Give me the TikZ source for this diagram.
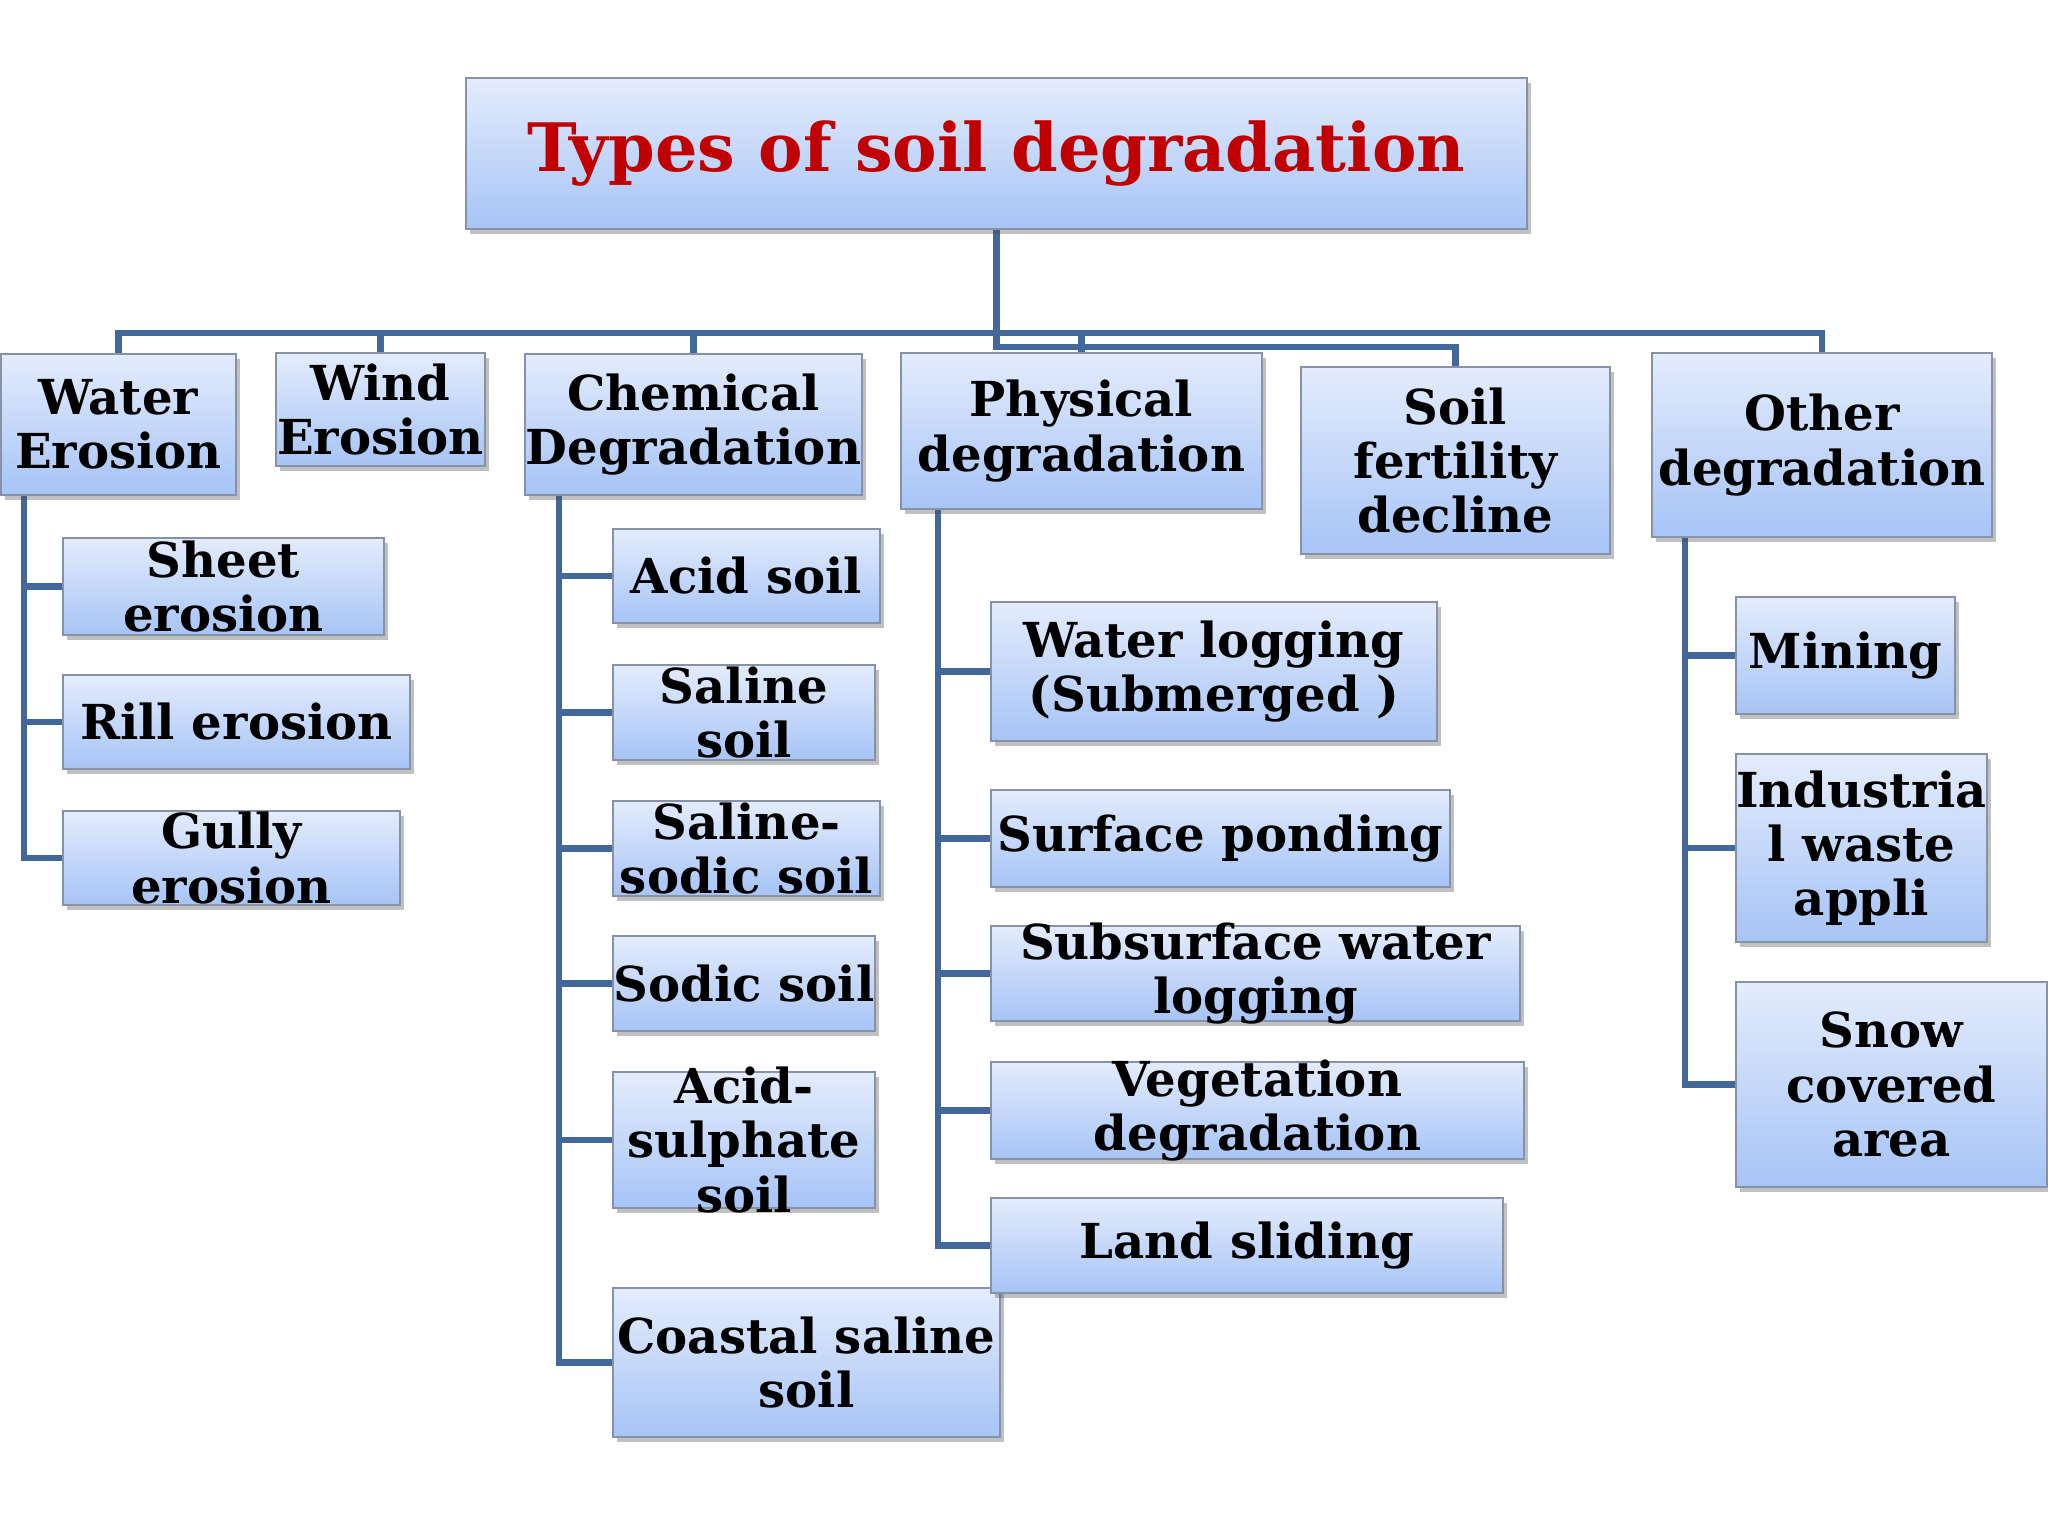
\documentclass[tikz,border=0pt]{standalone}
\usepackage{fontspec}
\setmainfont{DejaVu Serif}
\usetikzlibrary{fit,shadows}
\pgfdeclarelayer{bg}
\pgfsetlayers{bg,main}
\definecolor{linec}{RGB}{66,104,155}
\definecolor{boxdraw}{RGB}{135,146,166}
\definecolor{boxtop}{RGB}{228,236,252}
\definecolor{boxbot}{RGB}{166,196,246}
\definecolor{titlered}{RGB}{192,0,0}
\tikzset{
  box/.style={draw=boxdraw, line width=0.7pt, top color=boxtop, bottom color=boxbot,
    inner sep=0pt, drop shadow={shadow xshift=0.035cm, shadow yshift=-0.045cm, opacity=0.35, fill=black!70}},
  lbl/.style={align=center, font=\bfseries\fontsize{13.7}{15.4}\selectfont, inner sep=0pt},
  ttl/.style={align=center, font=\bfseries\fontsize{19}{22}\selectfont, text=titlered, inner sep=0pt},
  conn/.style={draw=linec, line width=1.9pt},
}
\newcommand\bx[6]{\node[box, fit={(#2,#3) (#4,#5)}] (#1) {};
  \node[lbl] (#1-t) at (#1.center) {#6};}
\begin{document}
\begin{tikzpicture}[x=0.01cm,y=-0.01cm]
\useasboundingbox (0,0) rectangle (2048,1536);
\begin{pgfonlayer}{bg}
\fill[white] (0,0) rectangle (2048,1536);
\end{pgfonlayer}

% title
\node[box, fit={(466,78) (1527,229)}] (title) {};
\node[ttl] (title-t) at (title.center) {Types of soil degradation};

% level 1
\bx{water}{1}{354}{236}{495}{Water\\Erosion}
\bx{wind}{276}{353}{485}{466}{Wind\\Erosion}
\bx{chem}{525}{354}{862}{495}{Chemical\\Degradation}
\bx{phys}{901}{353}{1262}{509}{Physical\\degradation}
\bx{soilf}{1301}{367}{1610}{554}{Soil\\fertility\\decline}
\bx{other}{1652}{353}{1992}{537}{Other\\degradation}

% water erosion
\bx{sheet}{63}{538}{384}{635}{Sheet\\erosion}
\bx{rill}{63}{675}{410}{769}{Rill erosion}
\bx{gully}{63}{811}{400}{905}{Gully\\erosion}

% chemical
\bx{acid}{613}{529}{880}{623}{Acid soil}
\bx{saline}{613}{665}{875}{760}{Saline\\soil}
\bx{salsod}{613}{801}{880}{896}{Saline-\\sodic soil}
\bx{sodic}{613}{936}{875}{1031}{Sodic soil}
\bx{acidsul}{613}{1072}{875}{1208}{Acid-\\sulphate\\soil}
\bx{coastal}{613}{1288}{1000}{1437}{Coastal saline\\soil}

% physical
\bx{wlog}{991}{602}{1437}{741}{Water logging\\(Submerged )}
\bx{surf}{991}{790}{1450}{887}{Surface ponding}
\bx{subs}{991}{926}{1520}{1021}{Subsurface water\\logging}
\bx{veg}{991}{1062}{1524}{1159}{Vegetation\\degradation}
\bx{land}{991}{1198}{1503}{1293}{Land sliding}

% other
\bx{mining}{1736}{597}{1955}{714}{Mining}
\bx{indus}{1736}{754}{1987}{942}{Industria\\l waste\\appli}
\bx{snow}{1736}{982}{2047}{1187}{Snow\\covered\\area}

% trunk coordinates
\coordinate (busL) at (118.5,333);
\coordinate (busR) at (1822,333);
\coordinate (jn) at (996.5,347);
\coordinate (wt) at (24,495);
\coordinate (ct) at (559,495);
\coordinate (pt) at (938,509);
\coordinate (ot) at (1685,537);

\begin{pgfonlayer}{bg}
\draw[conn] (title.south) -- (jn) -| (soilf.north);
\draw[conn, line join=miter] (water.north) -- (busL) -- (busR) -- (other.north);
\draw[conn] (wind.north) -- (wind.north |- busL);
\draw[conn] (chem.north) -- (chem.north |- busL);
\draw[conn] (phys.north) -- (phys.north |- busL);

\draw[conn] (wt) |- (gully.west);
\draw[conn] (sheet.west) -- (sheet.west -| wt);
\draw[conn] (rill.west) -- (rill.west -| wt);

\draw[conn] (ct) |- (coastal.west);
\foreach \n in {acid,saline,salsod,sodic,acidsul}
  \draw[conn] (\n.west) -- (\n.west -| ct);

\draw[conn] (pt) |- (land.west);
\foreach \n in {wlog,surf,subs,veg}
  \draw[conn] (\n.west) -- (\n.west -| pt);

\draw[conn] (ot) |- (snow.west);
\foreach \n in {mining,indus}
  \draw[conn] (\n.west) -- (\n.west -| ot);
\end{pgfonlayer}
\end{tikzpicture}
\end{document}
